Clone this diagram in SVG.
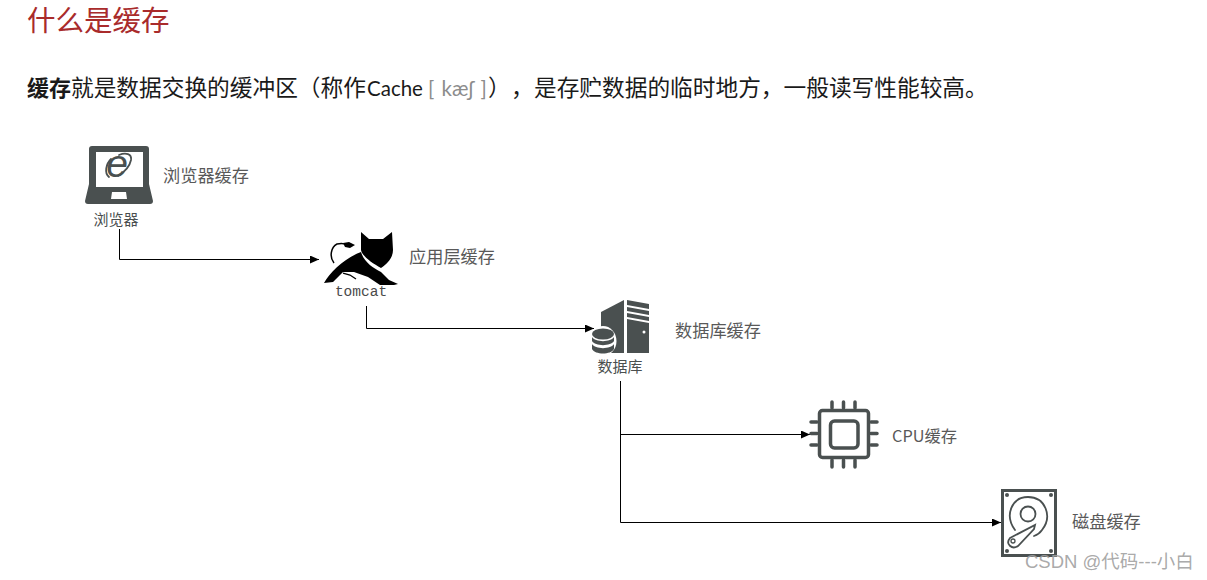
<svg xmlns="http://www.w3.org/2000/svg" width="1207" height="580" viewBox="0 0 1207 580">
<style>
text{font-family:"Liberation Sans","Noto Sans CJK SC",sans-serif}
.cjk{font-family:"Noto Sans CJK SC","Liberation Sans",sans-serif}
.lab{font-size:17.200px;fill:#595959;font-family:"Noto Sans CJK SC",sans-serif}
.sm{font-size:15px;fill:#4a4f4f;font-family:"Noto Sans CJK SC",sans-serif;text-anchor:middle}
.body{font-size:22.700px;fill:#1a1a1a;font-family:"Noto Sans CJK SC",sans-serif}
.lat{font-size:20.500px;font-family:Lato,sans-serif}
.line{fill:none;stroke:#000;stroke-width:1;marker-end:url(#arr)}
.ic{fill:#4a5050}
.st{fill:none;stroke:#4a5050;stroke-linecap:round}
</style>
<defs>
<marker id="arr" markerUnits="userSpaceOnUse" markerWidth="10" markerHeight="8" refX="9" refY="4" orient="auto"><path d="M0 0L9 4L0 8Z" fill="#000"/></marker>
</defs>
<rect width="1207" height="580" fill="#fff"/>
<text id="title" x="27" y="31" class="cjk" font-size="28.500" fill="#a92b2b">什么是缓存</text>
<g id="intro">
<text x="27" y="96" class="body" font-weight="700" style="font-size:22px">缓存</text>
<text x="71" y="96" class="body">就是数据交换的缓冲区（称作</text>
<text x="367" y="96" class="lat" fill="#1a1a1a">Cache</text>
<text x="428" y="96" class="lat" fill="#8c8c8c" word-spacing="2">[ kæʃ ]</text>
<text x="488" y="96" class="body">）</text>
<text x="511" y="96" class="body">，</text>
<text x="534" y="96" class="body">是存贮数据的临时地方，一般读写性能较高。</text>
</g>
<g id="connectors">
<path class="line" d="M119.500 229V259.500H319"/>
<path class="line" d="M366.500 306V328.500H594"/>
<path class="line" d="M620.500 381V434.500H810"/>
<path class="line" d="M620.500 434V522.500H1001"/>
</g>
<g id="browser">
<path class="ic" fill-rule="evenodd" d="M92 146H146Q149 146 149 149V184L153 201Q153 204 150 204H88Q85 204 85 201L89 184V149Q89 146 92 146ZM96 152V187H143V152ZM112 192L111 199H127L126 192Z"/>
<text x="117" y="177" font-size="39" font-style="italic" fill="#4a5050" text-anchor="middle">e</text>
<path class="st" stroke-width="1.800" d="M109 177C104 173 106 164 111 159M119 155C126 152 132 154 131 160C130 165 126 171 118 176"/>
<text x="116" y="225" class="sm">浏览器</text>
<text x="163" y="182" class="lab">浏览器缓存</text>
</g>
<g id="tomcat">
<path fill="#000" d="M361 232L369 239H383L392 232L393 250C393 258 387 264 381 268C372 263 362 256 361 250Z"/>
<path fill="#000" d="M361 252C364 262 373 268 381 272L389 280L398 284L394 285L380 285L368 277L354 272L343 272L333 282L324 283C330 272 345 258 361 252Z"/>
<path fill="none" stroke="#000" stroke-width="1.500" d="M334 263C329 257 331 247 337 244C341 243 344 243 347 245"/>
<path fill="#000" d="M343 243L349 242L355 245L350 248L345 247Z"/>
<path fill="none" stroke="#000" stroke-width="1.300" d="M343 273L350 275L356 279"/>
<text x="361" y="296" font-size="14.500" fill="#4a4a4a" text-anchor="middle" style="font-family:'Liberation Mono',monospace">tomcat</text>
<text x="409" y="263" class="lab">应用层缓存</text>
</g>
<g id="database">
<path class="ic" d="M601 312L624 300V353H601Z"/>
<path class="ic" d="M627 300L649 304V309L627 305ZM627 307L649 311V315L627 311ZM627 313L649 317V321L627 317ZM627 319L649 323V353H627Z"/>
<circle cx="644" cy="332" r="1.500" fill="#fff"/>
<ellipse cx="603" cy="341" rx="13.500" ry="15" fill="#fff"/>
<ellipse cx="603" cy="334" rx="11" ry="5.500" class="ic"/>
<path class="ic" d="M592 337C595 342.500 611 342.500 614 337V341C611 346.500 595 346.500 592 341Z"/>
<path class="ic" d="M592 344C595 349.500 611 349.500 614 344V349C611 355 595 355 592 349Z"/>
<text x="620" y="372" class="sm">数据库</text>
<text x="675" y="337" class="lab">数据库缓存</text>
</g>
<g id="cpu">
<rect x="819.500" y="410.500" width="49" height="47" rx="3" fill="none" stroke="#4a5050" stroke-width="3.500"/>
<rect x="830.500" y="421" width="27.500" height="27" rx="4" fill="none" stroke="#4a5050" stroke-width="3.500"/>
<path class="st" stroke-width="3.500" d="M832 402V408M843.500 402V408M855 402V408M832 460V467M843.500 460V467M855 460V467M811 422H817M811 433.500H817M811 445H817M871 422H877M871 433.500H877M871 445H877"/>
<text x="892" y="442" class="lab" style="font-size:16.300px">CPU缓存</text>
</g>
<g id="disk">
<rect x="1002.500" y="490.500" width="53" height="65" fill="none" stroke="#4a5050" stroke-width="3"/>
<circle cx="1007" cy="495" r="2" class="ic"/><circle cx="1051" cy="495" r="2" class="ic"/><circle cx="1007" cy="551" r="2" class="ic"/><circle cx="1051" cy="551" r="2" class="ic"/>
<path class="st" stroke-width="1.800" d="M1015 530C1004 515 1012 497 1028 497C1045 497 1053 516 1042 530C1040 533 1037 535 1034 536"/>
<circle cx="1028" cy="514" r="7.500" class="st" stroke-width="1.800"/>
<path d="M1010 538L1035 525L1034 529L1018 546C1012 550 1005 544 1010 538Z" fill="#fff" stroke="#4a5050" stroke-width="1.800"/>
<circle cx="1013" cy="541" r="2" class="st" stroke-width="1.300"/>
<text x="1072" y="528" class="lab">磁盘缓存</text>
</g>
<text id="watermark" x="1025" y="568" font-size="18.500" fill="#a0a0a0" fill-opacity="0.9" style="font-family:'Liberation Sans','Noto Sans CJK SC',sans-serif">CSDN @代码---小白</text>
</svg>
